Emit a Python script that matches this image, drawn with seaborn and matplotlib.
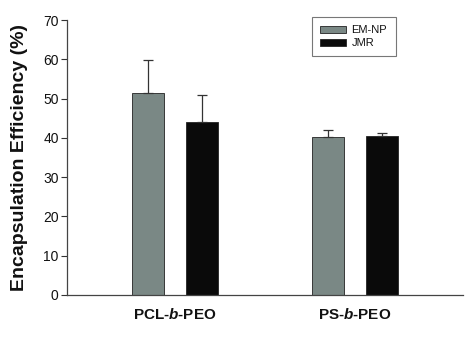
import numpy as np
import pandas as pd
import matplotlib
matplotlib.use("Agg")
import matplotlib.pyplot as plt
import seaborn as sns

sns.set_theme(style="white")
plt.rcParams['font.family'] = ['Liberation Sans', 'DejaVu Sans']
plt.rcParams['mathtext.fontset'] = 'custom'
plt.rcParams['mathtext.it'] = 'Liberation Sans:bold:italic'
plt.rcParams['mathtext.rm'] = 'Liberation Sans:bold'
plt.rcParams['text.color'] = '#111111'
plt.rcParams['axes.labelcolor'] = '#111111'
plt.rcParams['xtick.color'] = '#111111'
plt.rcParams['ytick.color'] = '#111111'

# values
polymers = ["PCL-$\\it{b}$-PEO", "PS-$\\it{b}$-PEO"]
methods = ["EM-NP", "JMR"]
efficiency = {"EM-NP": [51.3, 40.3], "JMR": [44.0, 40.4]}
errors = {"EM-NP": [8.5, 1.7], "JMR": [7.0, 0.9]}
colors = {"EM-NP": "#788a87", "JMR": "#0a0a0a"}

rows = []
for m in methods:
    for i, p in enumerate(polymers):
        rows.append({"polymer": p, "method": m,
                     "value": efficiency[m][i], "err": errors[m][i]})
df = pd.DataFrame(rows)

fig = plt.figure(figsize=(4.74, 3.39), dpi=100)
ax = fig.add_axes([0.1414, 0.1298, 0.8354, 0.8112])

sns.barplot(data=df, x="polymer", y="value", hue="method", order=polymers,
            hue_order=methods, palette=colors, width=0.6, gap=0.39,
            errorbar=None, edgecolor="#222222", linewidth=0.6, ax=ax)

# upper error bars only
for container, m in zip(ax.containers, methods):
    xs = [b.get_x() + b.get_width() / 2 for b in container]
    ys = [b.get_height() for b in container]
    ax.errorbar(xs, ys, yerr=[np.zeros(len(ys)), errors[m]], fmt="none",
                ecolor="#333333", elinewidth=0.9, capsize=3.5, capthick=0.9)

ax.set_xlim(-0.6, 1.6)
ax.set_ylim(0, 70)
ax.set_yticks(range(0, 71, 10))
ax.tick_params(axis="y", direction="out", length=4, width=0.8, color="#333333",
               labelsize=10, pad=2, left=True)
ax.tick_params(axis="x", length=0, labelsize=11, pad=9)
for lbl in ax.get_xticklabels():
    lbl.set_fontweight("bold")

for s in ["top", "right"]:
    ax.spines[s].set_visible(False)
for s in ["left", "bottom"]:
    ax.spines[s].set_color("#444444")
    ax.spines[s].set_linewidth(0.9)

ax.set_xlabel("")
ax.set_ylabel("Encapsulation Efficiency (%)", fontsize=14, fontweight="bold")
ax.yaxis.set_label_coords(-0.098, 0.5)

leg = ax.legend(loc="upper left", bbox_to_anchor=(0.619, 1.011), borderaxespad=0,
                fontsize=8, handlelength=2.3, handleheight=0.6, labelspacing=0.25,
                borderpad=0.75, handletextpad=0.5, fancybox=False, frameon=True,
                title=None)
leg.get_frame().set_edgecolor("#555555")
leg.get_frame().set_linewidth(0.8)

fig.savefig("out.png", dpi=100)
